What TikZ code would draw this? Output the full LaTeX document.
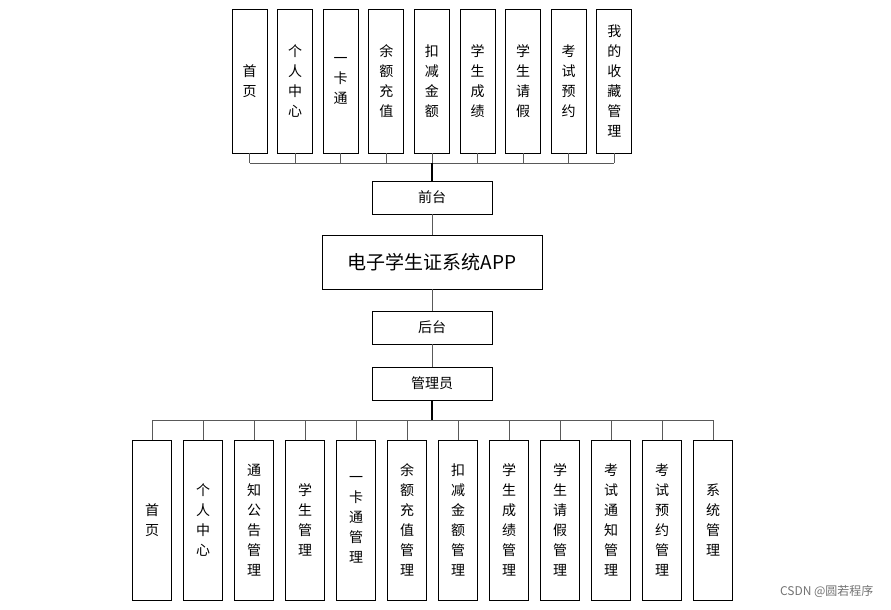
\documentclass[tikz,border=0pt]{standalone}
\usepackage{fontspec}
\setmainfont{Noto Sans CJK SC}
\begin{document}
\begin{tikzpicture}[x=1pt,y=-1pt,
  box/.style={draw=black,line width=0.8pt,inner sep=0pt,font=\fontsize{14}{20}\selectfont,align=center},
  conn/.style={draw=black!65,line width=0.7pt},
  trunk/.style={draw=black,line width=1.6pt}]
\useasboundingbox (0,0) rectangle (891,610);
% top boxes
\foreach \i/\t in {0/首\\页,1/个\\人\\中\\心,2/一\\卡\\通,3/余\\额\\充\\值,4/扣\\减\\金\\额,5/学\\生\\成\\绩,6/学\\生\\请\\假,7/考\\试\\预\\约,8/我\\的\\收\\藏\\管\\理}{
  \node[box,minimum width=35pt,minimum height=144pt] (t\i) at ({249.5+45.6*\i},81) {\t};
  \draw[conn] (t\i.south) -- (t\i.south |- 0,163);
}
\coordinate (tb) at (432,163);
\draw[conn] (t0.south |- 0,163) -- (t8.south |- 0,163);
\node[box,minimum width=120pt,minimum height=33pt] (qt) at (432,197.5) {前台};
\node[box,minimum width=220pt,minimum height=54pt,font=\fontsize{19}{22}\selectfont] (app) at (432,262) {电子学生证系统APP};
\node[box,minimum width=120pt,minimum height=33pt] (ht) at (432,327.5) {后台};
\node[box,minimum width=120pt,minimum height=33pt] (gl) at (432,383.5) {管理员};
\draw[trunk] (tb) -- (qt.north);
\draw[conn] (qt) -- (app);
\draw[conn] (app) -- (ht);
\draw[conn] (ht) -- (gl);
\coordinate (bb) at (432,420);
\draw[trunk] (gl.south) -- (bb);
\foreach \i/\t in {0/首\\页,1/个\\人\\中\\心,2/通\\知\\公\\告\\管\\理,3/学\\生\\管\\理,4/一\\卡\\通\\管\\理,5/余\\额\\充\\值\\管\\理,6/扣\\减\\金\\额\\管\\理,7/学\\生\\成\\绩\\管\\理,8/学\\生\\请\\假\\管\\理,9/考\\试\\通\\知\\管\\理,10/考\\试\\预\\约\\管\\理,11/系\\统\\管\\理}{
  \node[box,minimum width=39pt,minimum height=160pt] (b\i) at ({152+51*\i},520) {\t};
  \draw[conn] (b\i.north) -- (b\i.north |- 0,420);
}
\draw[conn] (b0.north |- 0,420) -- (b11.north |- 0,420);
\node[text=black!55,font=\fontsize{12}{14}\selectfont,anchor=east] (wm) at (877,591) {CSDN @圆若程序};
\end{tikzpicture}
\end{document}
